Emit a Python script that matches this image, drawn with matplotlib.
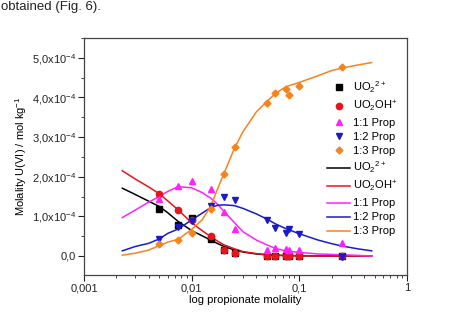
import matplotlib
matplotlib.use("Agg")
import matplotlib.pyplot as plt
import matplotlib.ticker as mticker
import numpy as np

plt.rcParams['font.family'] = ['Liberation Sans', 'DejaVu Sans']
plt.rcParams['mathtext.fontset'] = 'custom'
plt.rcParams['mathtext.rm'] = 'Liberation Sans'
plt.rcParams['mathtext.it'] = 'Liberation Sans:italic'

# measured data (x: propionate molality, y: molality in units of 1e-4 mol/kg)
x_pts = [0.005, 0.0075, 0.01, 0.015, 0.02, 0.025, 0.05, 0.06, 0.075, 0.08, 0.1, 0.25]
uo2_pts = [1.19, 0.77, 0.95, 0.43, 0.15, 0.07, 0.0, 0.0, 0.0, 0.0, 0.0, 0.0]
uo2oh_pts = [1.57, 1.15, 0.92, 0.51, 0.15, 0.07, 0.0, 0.0, 0.0, 0.0, 0.0, 0.0]
p11_pts = [1.44, 1.77, 1.88, 1.69, 1.12, 0.67, 0.15, 0.19, 0.18, 0.15, 0.15, 0.32]
p12_pts = [0.43, 0.72, 0.88, 1.25, 1.48, 1.41, 0.91, 0.70, 0.57, 0.67, 0.56, -0.03]
p13_pts = [0.29, 0.40, 0.59, 1.18, 2.07, 2.74, 3.87, 4.12, 4.22, 4.07, 4.29, 4.78]

# fitted curves
x_fit = [0.00227, 0.003, 0.004, 0.005, 0.006, 0.0075, 0.01, 0.0125, 0.015, 0.0175,
         0.02, 0.025, 0.03, 0.04, 0.05, 0.06, 0.075, 0.1, 0.15, 0.2, 0.25, 0.35, 0.47]
uo2_fit = [1.71, 1.55, 1.38, 1.25, 1.09, 0.87, 0.64, 0.51, 0.40, 0.31,
           0.24, 0.15, 0.10, 0.05, 0.03, 0.02, 0.01, 0.005, 0.0, 0.0, 0.0, 0.0, 0.0]
uo2oh_fit = [2.15, 1.94, 1.74, 1.57, 1.39, 1.16, 0.84, 0.64, 0.49, 0.37,
             0.28, 0.18, 0.11, 0.06, 0.03, 0.02, 0.01, 0.005, 0.0, 0.0, 0.0, 0.0, 0.0]
p11_fit = [0.97, 1.16, 1.36, 1.50, 1.63, 1.75, 1.72, 1.60, 1.46, 1.30,
           1.12, 0.84, 0.61, 0.40, 0.28, 0.19, 0.13, 0.09, 0.05, 0.04, 0.03, 0.015, 0.0]
p12_fit = [0.13, 0.24, 0.32, 0.43, 0.57, 0.68, 0.91, 1.08, 1.22, 1.28,
           1.29, 1.27, 1.20, 1.06, 0.93, 0.81, 0.69, 0.56, 0.40, 0.31, 0.25, 0.18, 0.13]
p13_fit = [0.02, 0.07, 0.15, 0.26, 0.35, 0.42, 0.67, 0.91, 1.25, 1.71,
           2.09, 2.72, 3.14, 3.64, 3.90, 4.10, 4.27, 4.38, 4.55, 4.68, 4.74, 4.82, 4.88]

labels = [r'UO$_2$$^{2+}$', r'UO$_2$OH$^{+}$', '1:1 Prop', '1:2 Prop', '1:3 Prop']
colors = ['#000000', '#e8141c', '#ff22ff', '#1a1acc', '#f5841f']
markers = ['s', 'o', '^', 'v', 'D']
msizes = [4, 4.5, 4.5, 4.5, 3.5]

fig = plt.figure(figsize=(4.74, 3.32), dpi=100)
ax = fig.add_axes([84/474, 1-275/332, (407-84)/474, (275-38)/332])

scale = 1e-4
pts = [uo2_pts, uo2oh_pts, p11_pts, p12_pts, p13_pts]
fits = [uo2_fit, uo2oh_fit, p11_fit, p12_fit, p13_fit]
mhandles = []
for p, c, m, ms, lab in zip(pts, colors, markers, msizes, labels):
    h, = ax.plot(x_pts, np.array(p)*scale, linestyle='none', marker=m, color=c,
                 markersize=ms, label=lab, zorder=3)
    mhandles.append(h)
lhandles = []
for f, c, lab in zip(fits, colors, labels):
    h, = ax.plot(x_fit, np.array(f)*scale, color=c, lw=1.1, label=lab, zorder=2)
    lhandles.append(h)

ax.set_xscale('log')
ax.set_xlim(0.001, 1)
ax.set_ylim(-0.48e-4, 5.5e-4)
ax.set_xticks([0.001, 0.01, 0.1, 1])
ax.set_xticklabels(['0,001', '0,01', '0,1', '1'])
yt = [0, 1e-4, 2e-4, 3e-4, 4e-4, 5e-4]
ax.set_yticks(yt)
ax.set_yticklabels(['0,0', r'1,0x10$^{-4}$', r'2,0x10$^{-4}$', r'3,0x10$^{-4}$',
                    r'4,0x10$^{-4}$', r'5,0x10$^{-4}$'])
ax.yaxis.set_minor_locator(mticker.MultipleLocator(0.5e-4))
ax.xaxis.set_minor_locator(mticker.LogLocator(base=10, subs=np.arange(2, 10)))
ax.xaxis.set_minor_formatter(mticker.NullFormatter())
ax.tick_params(which='both', direction='out', top=False, right=False,
               labelsize=8, colors='#222222', pad=2)
ax.tick_params(which='major', length=4, width=0.8)
ax.tick_params(which='minor', length=2, width=0.6)
for s in ax.spines.values():
    s.set_color('#444444')
    s.set_linewidth(0.9)

ax.set_xlabel('log propionate molality', fontsize=8, labelpad=1)
ax.set_ylabel(r'Molality U(VI) / mol kg$^{-1}$', fontsize=8, labelpad=2)

leg = ax.legend(mhandles + lhandles, labels + labels, loc='upper left',
                bbox_to_anchor=(0.74, 0.845), frameon=False, fontsize=8,
                handlelength=2.0, handletextpad=0.3, labelspacing=0.36,
                borderaxespad=0)

fig.text(0.002, 1 - 10/332, 'obtained (Fig. 6).', fontsize=9.5, va='baseline',
         color='#222222')

fig.savefig('out.png', dpi=100)
